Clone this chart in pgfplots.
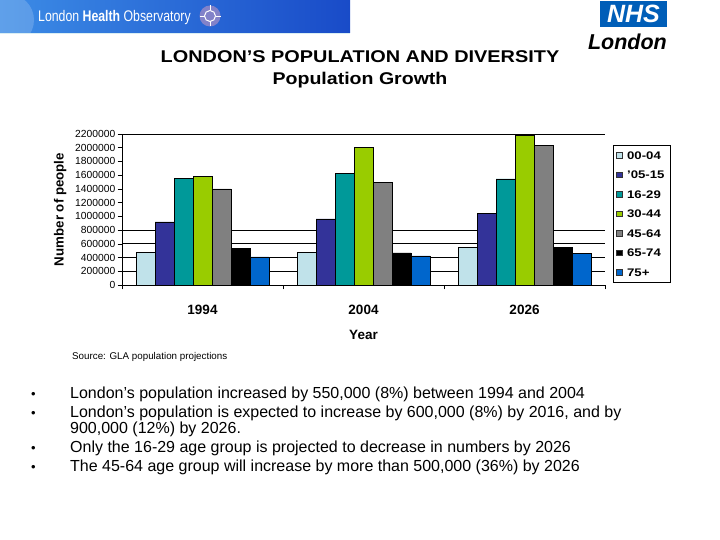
\documentclass[border=0pt]{standalone}
\usepackage{fontspec}
\setmainfont{Liberation Sans}
\usepackage{graphicx}
\usepackage{pgfplots}
\usepackage{pgfplotstable}
\pgfplotsset{compat=1.18}
\definecolor{cA}{RGB}{192,226,234}
\definecolor{cB}{RGB}{51,51,153}
\definecolor{cC}{RGB}{0,153,153}
\definecolor{cD}{RGB}{153,204,0}
\definecolor{cE}{RGB}{128,128,128}
\definecolor{cF}{RGB}{0,0,0}
\definecolor{cG}{RGB}{0,102,204}
\definecolor{nhsblue}{RGB}{0,94,184}
\definecolor{lhoL}{RGB}{60,140,230}
\definecolor{lhoR}{RGB}{25,75,200}
\pgfplotstableread{
x a b c d e f g
0 480000 920000 1555000 1585000 1400000 530000 410000
1 475000 963000 1620000 2000000 1490000 467000 423000
2 545000 1046000 1547000 2175000 2030000 545000 462000
}\popdata
\pgfplotsset{
  mybar/.style={fill=#1, draw=black, line width=0.6bp,
    legend image code/.code={\draw[fill=#1,draw=black!80,line width=0.5bp] (0bp,-2.9bp) rectangle (5.8bp,2.9bp);}},
}
\newcommand{\fs}[1]{\fontsize{#1bp}{#1bp}\selectfont}
\newcommand{\legw}[1]{\scalebox{1.2}[1]{#1}}
\begin{document}
\begin{tikzpicture}[x=1bp,y=1bp]
\path[use as bounding box] (0,0) rectangle (720,540);
% banner
\begin{scope}
\clip (0,507) rectangle (350,540);
\shade[left color=lhoL, right color=lhoR] (0,507) rectangle (350,540);
\fill[white, opacity=0.18] (8,520) circle (26);
\end{scope}
\fill[cA!60] (0,505.5) rectangle (350,507);
\node[anchor=base west, white, inner sep=0] at (38,518) {\scalebox{1}[1.25]{\fs{12.3}London \textbf{Health} Observatory}};
\fill[gray!60!blue!70] (210,524) circle (10.5);
\draw[white, line width=1bp] (210,524) circle (5.5);
\draw[white, line width=0.8bp] (210,529.5) -- (210,534.5) (210,518.5) -- (210,513.5) (204.5,524) -- (199.5,524) (215.5,524) -- (220.5,524);
% NHS logo
\fill[nhsblue] (600,513) rectangle (667,539);
\node[anchor=base, white, inner sep=0] at (633.5,517) {\fs{25}\bfseries\itshape NHS};
\node[anchor=base east, inner sep=0] at (667,490) {\fs{21.5}\bfseries\itshape London};
% titles
\node[anchor=base, inner sep=0] at (360,477.7) {\scalebox{1.17}[1]{\fs{17}\bfseries LONDON’S POPULATION AND DIVERSITY}};
\node[anchor=base, inner sep=0] at (360,455.5) {\scalebox{1.15}[1]{\fs{17}\bfseries Population Growth}};
\begin{axis}[
  at={(122bp,255bp)}, anchor=south west,
  scale only axis, width=483bp, height=151bp,
  ybar=0pt, bar width=19bp,
  xmin=-0.5, xmax=2.5, ymin=0, ymax=2200000,
  axis x line*=bottom, axis y line*=left,
  axis line style={line width=0.8bp},
  xtick={-0.5,0.5,1.5,2.5}, x tick label as interval,
  xticklabels={1994,2004,2026},
  ytick={0,200000,...,2200000},
  scaled y ticks=false,
  tick align=outside, major tick length=4.5bp,
  tick style={black, line width=0.6bp},
  /pgf/number format/assume math mode=true,
  yticklabel={\pgfmathprintnumber[fixed,1000 sep={}]{\tick}},
  yticklabel style={font=\fs{10.3}, inner sep=2bp},
  xticklabel style={font=\fs{13.5}\bfseries, yshift=-12bp},
  extra y ticks={200000,400000,600000,800000,2200000},
  extra y tick labels={},
  extra y tick style={grid=major, major tick length=0pt},
  major grid style={black, line width=0.9bp},
  xlabel={Year}, ylabel={Number of people},
  every axis x label/.style={at={(rel axis cs:0.5,-0.331)}, anchor=center, font=\fs{13.5}\bfseries},
  every axis y label/.style={at={(rel axis cs:-0.128,0.5)}, anchor=center, rotate=90, font=\fs{13.3}\bfseries},
  legend style={at={(1,1)}, anchor=north west, xshift=7.5bp, yshift=-11bp,
    draw=black, line width=0.6bp, font=\fs{11}\bfseries,
    inner xsep=3bp, inner ysep=4.5bp, row sep=8.5bp,
    nodes={text height=8bp, text depth=0bp, inner ysep=1.5bp, inner xsep=2.5bp},
    /tikz/every odd column/.append style={column sep=2.5bp},
    cells={anchor=west}},
  legend cell align=left,
]
\addplot[mybar=cA] table[x=x,y=a]{\popdata};
\addplot[mybar=cB] table[x=x,y=b]{\popdata};
\addplot[mybar=cC] table[x=x,y=c]{\popdata};
\addplot[mybar=cD] table[x=x,y=d]{\popdata};
\addplot[mybar=cE] table[x=x,y=e]{\popdata};
\addplot[mybar=cF] table[x=x,y=f]{\popdata};
\addplot[mybar=cG] table[x=x,y=g]{\popdata};
\legend{\legw{00-04},\legw{'05-15},\legw{16-29},\legw{30-44},\legw{45-64},\legw{65-74},\legw{75+}}
\end{axis}
% source
\node[anchor=base west, inner sep=0] at (72,180) {\fs{9.8}Source: GLA population projections};
% bullets
\foreach \yy in {141,122,87,68} {\node[anchor=base west, inner sep=0] at (31,\yy) {\fs{13}•};}
\node[anchor=base west, inner sep=0] at (70,141) {\fs{16}London's population increased by 550,000 (8\%) between 1994 and 2004};
\node[anchor=base west, inner sep=0] at (70,122) {\fs{16}London's population is expected to increase by 600,000 (8\%) by 2016, and by};
\node[anchor=base west, inner sep=0] at (70,106) {\fs{16}900,000 (12\%) by 2026.};
\node[anchor=base west, inner sep=0] at (70,87) {\fs{16}Only the 16-29 age group is projected to decrease in numbers by 2026};
\node[anchor=base west, inner sep=0] at (70,68) {\fs{16}The 45-64 age group will increase by more than 500,000 (36\%) by 2026};
\end{tikzpicture}
\end{document}
